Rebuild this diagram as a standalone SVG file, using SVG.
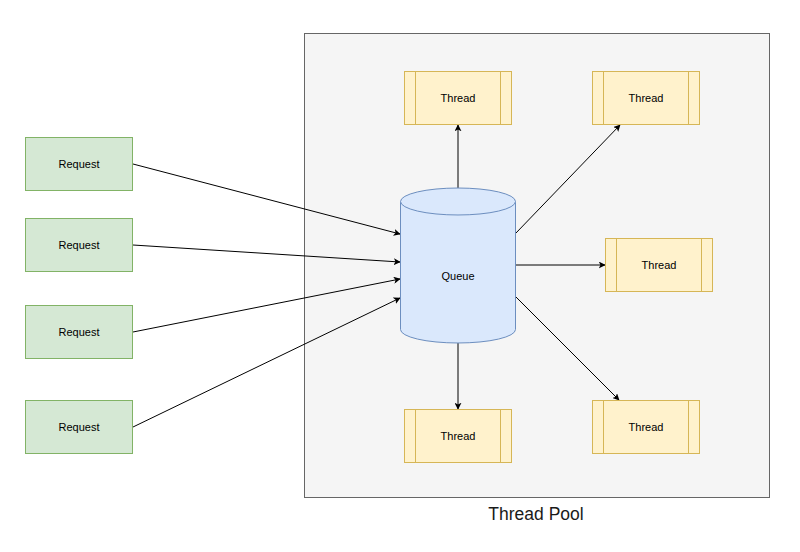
<svg xmlns="http://www.w3.org/2000/svg" width="800" height="552" viewBox="0 0 800 552">
<style>
text{font-family:"Liberation Sans",Arial,sans-serif;font-size:11px;fill:#000;text-anchor:middle;dominant-baseline:central}
.req{fill:#d5e8d4;stroke:#82b366;stroke-width:1}
.thr{fill:#fff2cc;stroke:#d6b656;stroke-width:1}
.q{fill:#dae8fc;stroke:#6c8ebf;stroke-width:1}
.edge{stroke:#000;stroke-width:1;fill:none;marker-end:url(#ah)}
</style>
<defs>
<marker id="ah" viewBox="0 0 10 10" refX="9" refY="5" markerWidth="7" markerHeight="7" markerUnits="userSpaceOnUse" orient="auto">
<path d="M0,0 L10,5 L0,10 L2.5,5 Z" fill="#000"/>
</marker>
</defs>
<rect width="800" height="552" fill="#fff"/>
<g id="pool">
<rect x="304.5" y="33.5" width="465" height="464" fill="#f5f5f5" stroke="#666"/>
<text x="536" y="514" style="font-size:17.5px;fill:#1a1a1a">Thread Pool</text>
</g>
<g id="connectors">
<line class="edge" x1="133" y1="164" x2="400" y2="234"/>
<line class="edge" x1="133" y1="245" x2="400" y2="262"/>
<line class="edge" x1="133" y1="332" x2="400" y2="279"/>
<line class="edge" x1="133" y1="427" x2="400" y2="298"/>
<line class="edge" x1="458" y1="188" x2="458" y2="125"/>
<line class="edge" x1="458" y1="343" x2="458" y2="409"/>
<line class="edge" x1="516" y1="265" x2="605" y2="265"/>
<line class="edge" x1="516" y1="233" x2="620" y2="125"/>
<line class="edge" x1="516" y1="297" x2="619" y2="400"/>
</g>
<g id="req1"><rect class="req" x="25.5" y="137.5" width="107" height="53"/><text x="79" y="164">Request</text></g>
<g id="req2"><rect class="req" x="25.5" y="218.5" width="107" height="53"/><text x="79" y="245">Request</text></g>
<g id="req3"><rect class="req" x="25.5" y="305.5" width="107" height="53"/><text x="79" y="332">Request</text></g>
<g id="req4"><rect class="req" x="25.5" y="400.5" width="107" height="53"/><text x="79" y="427">Request</text></g>
<g id="queue">
<path class="q" d="M400.5,201.5 A57.5,13.5 0 0 1 515.5,201.5 L515.5,329.5 A57.5,13.5 0 0 1 400.5,329.5 Z"/>
<path class="q" d="M400.5,201.5 A57.5,13.5 0 0 0 515.5,201.5" fill="none"/>
<text x="458" y="276">Queue</text>
</g>
<g id="thread1"><rect class="thr" x="404.5" y="71.5" width="107" height="53"/><line class="thr" x1="415.5" y1="71.5" x2="415.5" y2="124.5"/><line class="thr" x1="500.5" y1="71.5" x2="500.5" y2="124.5"/><text x="458" y="98">Thread</text></g>
<g id="thread2"><rect class="thr" x="592.5" y="71.5" width="107" height="53"/><line class="thr" x1="603.5" y1="71.5" x2="603.5" y2="124.5"/><line class="thr" x1="688.5" y1="71.5" x2="688.5" y2="124.5"/><text x="646" y="98">Thread</text></g>
<g id="thread3"><rect class="thr" x="605.5" y="238.5" width="107" height="53"/><line class="thr" x1="616.5" y1="238.5" x2="616.5" y2="291.5"/><line class="thr" x1="701.5" y1="238.5" x2="701.5" y2="291.5"/><text x="659" y="265">Thread</text></g>
<g id="thread4"><rect class="thr" x="592.5" y="400.5" width="107" height="53"/><line class="thr" x1="603.5" y1="400.5" x2="603.5" y2="453.5"/><line class="thr" x1="688.5" y1="400.5" x2="688.5" y2="453.5"/><text x="646" y="427">Thread</text></g>
<g id="thread5"><rect class="thr" x="404.5" y="409.5" width="107" height="53"/><line class="thr" x1="415.5" y1="409.5" x2="415.5" y2="462.5"/><line class="thr" x1="500.5" y1="409.5" x2="500.5" y2="462.5"/><text x="458" y="436">Thread</text></g>
</svg>
